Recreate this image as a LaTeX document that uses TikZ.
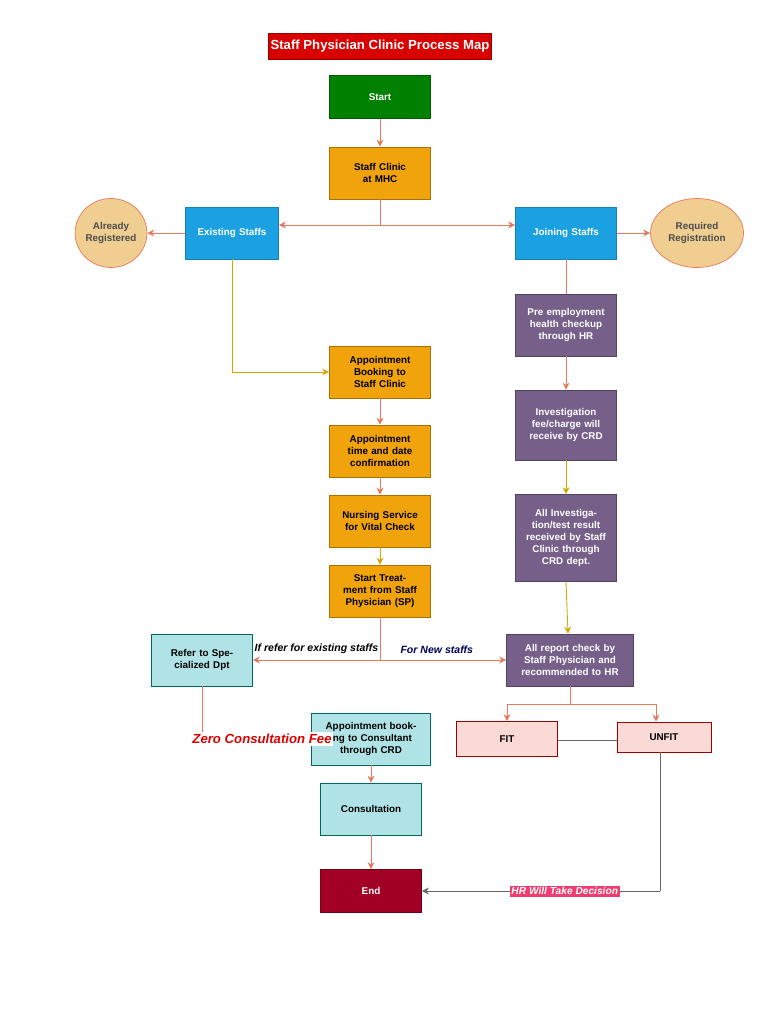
\documentclass[tikz,border=0pt]{standalone}
\usepackage{fontspec}
\setmainfont{Liberation Sans}
\usetikzlibrary{shapes.geometric,arrows.meta}
\definecolor{cgreen}{RGB}{0,128,0}
\definecolor{corange}{RGB}{240,163,10}
\definecolor{cblue}{RGB}{27,161,226}
\definecolor{cpurple}{RGB}{118,96,138}
\definecolor{cteal}{RGB}{176,227,230}
\definecolor{cfit}{RGB}{250,218,215}
\definecolor{cell}{RGB}{240,205,145}
\definecolor{cend}{RGB}{162,0,37}
\definecolor{cline}{RGB}{232,120,90}
\definecolor{cyel}{RGB}{215,165,0}
\definecolor{cpink}{RGB}{240,60,110}
\begin{document}
\begin{tikzpicture}[x=0.02cm,y=-0.02cm,
 box/.style={draw,rectangle,align=center,font=\fontsize{5.6}{6.8}\selectfont\bfseries,inner sep=1pt},
 bx/.style n args={2}{box,minimum width=#1*0.02cm,minimum height=#2*0.02cm,text width=#1*0.02cm-8pt},
 org/.style={fill=corange,draw=corange!70!black},
 blu/.style={fill=cblue,draw=cblue!80!black,text=white},
 pur/.style={fill=cpurple,draw=cpurple!70!black,text=white},
 tea/.style={fill=cteal,draw=teal!80!black},
 fit/.style={fill=cfit,draw=red!60!black},
 ell/.style={ellipse,draw=cline,fill=cell,align=center,font=\fontsize{5.6}{6.8}\selectfont\bfseries,text=black!70,inner sep=0pt},
 ln/.style={draw=cline,line width=0.5pt},
 ar/.style={ln,-{Stealth[length=4pt,width=4pt]}},
 ya/.style={draw=cyel,line width=0.5pt,-{Stealth[length=4pt,width=4pt]}},
 gr/.style={draw=black!60,line width=0.5pt}]
\useasboundingbox (0,0) rectangle (768,1024);
\node[box,fill=red!85!black,draw=red!60!black,text=white,minimum width=221*0.02cm,minimum height=26*0.02cm,font=\fontsize{7.5}{9}\selectfont\bfseries] (title) at (380,46) {Staff Physician Clinic Process Map};
\node[bx={101}{43},fill=cgreen,draw=cgreen!70!black,text=white] (start) at (380,97) {Start};
\node[bx={101}{52},org] (clinic) at (380,173) {Staff Clinic at MHC};
\node[bx={93}{52},blu] (exist) at (232,233) {Existing Staffs};
\node[bx={101}{52},blu] (join) at (566,233) {Joining Staffs};
\node[ell,minimum width=68*0.02cm,minimum height=69*0.02cm] (already) at (111,233) {Already\\Registered};
\node[ell,minimum width=93*0.02cm,minimum height=69*0.02cm] (req) at (697,233) {Required\\Registration};
\node[bx={101}{62},pur] (pre) at (566,325) {Pre employment health checkup through HR};
\node[bx={101}{70},pur] (inv) at (566,425) {Investigation fee/charge will receive by CRD};
\node[bx={101}{87},pur] (allinv) at (566,538) {All Investigation/test result received by Staff Clinic through CRD dept.};
\node[bx={127}{52},pur] (report) at (570,660) {All report check by Staff Physician and recommended to HR};
\node[bx={101}{52},org] (book) at (380,372) {Appointment Booking to Staff Clinic};
\node[bx={101}{52},org] (time) at (380,451) {Appointment time and date confirmation};
\node[bx={101}{52},org] (nurse) at (380,521) {Nursing Service for Vital Check};
\node[bx={101}{52},org] (treat) at (380,591) {Start Treatment from Staff Physician (SP)};
\node[bx={101}{52},tea] (refer) at (202,660) {Refer to Specialized Dpt};
\node[bx={119}{52},tea] (cons) at (371,739) {Appointment booking to Consultant through CRD};
\node[bx={101}{52},tea] (consult) at (371,809) {Consultation};
\node[bx={101}{43},fill=cend,draw=cend!70!black,text=white] (end) at (371,891) {End};
\node[bx={101}{35},fit] (fitn) at (507,739) {FIT};
\node[bx={94}{30},fit] (unfit) at (664,737) {UNFIT};
\coordinate (c1) at (380,225);
\coordinate (c2) at (380,660);
\coordinate (c3) at (570,704);
\coordinate (c4) at (202,739);
\coordinate (c5) at (660,891);
\draw[ar] (start) -- (clinic);
\draw[ln] (clinic) -- (c1);
\draw[ar] (c1) -- (exist.east|-c1);
\draw[ar] (c1) -- (join.west|-c1);
\draw[ar] (exist) -- (already);
\draw[ar] (join) -- (req);
\draw[ya] (exist.south) |- (book.west);
\draw[ln] (join) -- (pre);
\draw[ar] (pre) -- (inv);
\draw[ya] (inv) -- (allinv);
\draw[ya] (allinv.south) -- (report.north-|568,0);
\draw[ar] (book) -- (time);
\draw[ar] (time) -- (nurse);
\draw[ya] (nurse) -- (treat);
\draw[ln] (treat) -- (c2);
\draw[ar] (c2) -- node[above,pos=0.5,font=\fontsize{6}{7}\selectfont\bfseries\itshape]{If refer for existing staffs} (refer);
\draw[ar] (c2) -- node[above,pos=0.45,font=\fontsize{6}{7}\selectfont\bfseries\itshape,text=black!65!blue]{For New staffs} (report);
\draw[ln] (report) -- (c3);
\draw[ar] (c3) -| (fitn.north);
\draw[ar] (c3) -| (unfit.north-|656,0);
\draw[gr] (fitn.east|-0,740) -- (unfit.west|-0,740);
\draw[ln] (refer) -- (c4);
\draw[ar] (c4) -- node[pos=0.55,fill=white,inner sep=1pt,text=red!85!black,font=\fontsize{7.5}{9}\selectfont\bfseries\itshape]{Zero Consultation Fee} (cons);
\draw[ar] (cons) -- (consult);
\draw[ar] (consult) -- (end);
\draw[gr] (unfit.south-|660,0) -- (c5);
\draw[gr,-{Stealth[length=4pt,width=4pt]}] (c5) -- node[pos=0.4,fill=cpink,inner sep=1pt,text=white,font=\fontsize{5.8}{7}\selectfont\bfseries\itshape]{HR Will Take Decision} (end);
\end{tikzpicture}
\end{document}
